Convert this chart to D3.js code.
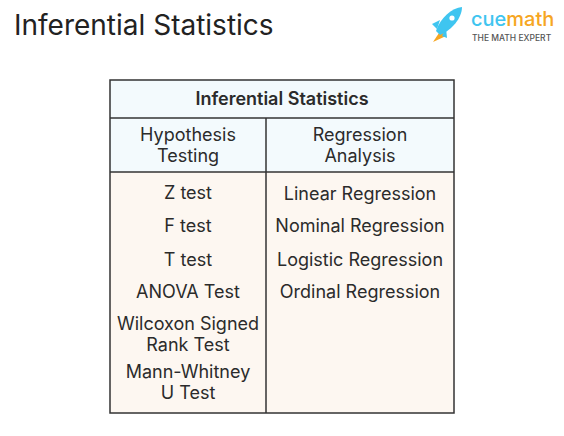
<!DOCTYPE html>
<html><head><meta charset="utf-8">
<script src="https://cdn.jsdelivr.net/npm/d3@7"></script>
<style>body{margin:0;background:#fff}svg{display:block;font-family:Inter,"Noto Sans",sans-serif}</style>
</head><body><svg id="c" width="564" height="436"></svg>
<script>
// table content
const title = 'Inferential Statistics';
const columns = [['Hypothesis', 'Testing'], ['Regression', 'Analysis']];
const leftItems = [['Z test'], ['F test'], ['T test'], ['ANOVA Test'], ['Wilcoxon Signed', 'Rank Test'], ['Mann-Whitney', 'U Test']];
const rightItems = [['Linear Regression'], ['Nominal Regression'], ['Logistic Regression'], ['Ordinal Regression']];
const leftY = [192, 225, 259, 291, 323, 371];
const rightY = [193, 225, 259, 291];

const svg = d3.select('#c');
const X0 = 110, X1 = 454, XM = 266, Y0 = 80, YH = 118, YS = 172, Y1 = 413;
const ink = '#2b2b2b';

svg.append('text').attr('x', 14).attr('y', 35).attr('font-size', 28).attr('fill', '#222').text('Inferential Statistics');

// logo
const lg = svg.append('g');
lg.append('path').attr('d', 'M441 30 L433 42 L446 36 Z').attr('fill', '#f6a623');
lg.append('path').attr('d', 'M436 31 C440 18 452 8 462 7 C462 18 452 30 440 35 Z').attr('fill', '#3fc5f0');
lg.append('path').attr('d', 'M432 24 L440 20 L437 29 Z M442 36 L446 28 L447 38 Z').attr('fill', '#3fc5f0');
lg.append('circle').attr('cx', 452).attr('cy', 18).attr('r', 2.6).attr('fill', '#fff');
lg.append('text').attr('x', 471).attr('y', 26).attr('font-size', 20).attr('font-weight', 500)
  .selectAll('tspan').data([['cue', '#3fc5f0'], ['math', '#f6a623']]).join('tspan')
  .attr('fill', d => d[1]).text(d => d[0]);
lg.append('text').attr('x', 472).attr('y', 41).attr('font-size', 8.5).attr('font-weight', 500).attr('fill', '#555').text('THE MATH EXPERT');

// backgrounds
svg.append('rect').attr('x', X0).attr('y', Y0).attr('width', X1 - X0).attr('height', YS - Y0).attr('fill', '#f3fafd');
svg.append('rect').attr('x', X0).attr('y', YS).attr('width', X1 - X0).attr('height', Y1 - YS).attr('fill', '#fdf7f1');
const lines = [[X0, YH, X1, YH], [X0, YS, X1, YS], [XM, YH, XM, Y1]];
svg.selectAll('line.g').data(lines).join('line').attr('class', 'g')
  .attr('x1', d => d[0]).attr('y1', d => d[1]).attr('x2', d => d[2]).attr('y2', d => d[3])
  .attr('stroke', '#333').attr('stroke-width', 1.5);
svg.append('rect').attr('x', X0).attr('y', Y0).attr('width', X1 - X0).attr('height', Y1 - Y0)
  .attr('fill', 'none').attr('stroke', '#333').attr('stroke-width', 1.5);

svg.append('text').attr('x', (X0 + X1) / 2).attr('y', 105).attr('text-anchor', 'middle')
  .attr('font-size', 18).attr('font-weight', 600).attr('fill', ink).text(title);

function cell(lines, cx, y) {
  const t = svg.append('text').attr('text-anchor', 'middle').attr('font-size', 18).attr('fill', ink);
  lines.forEach((s, i) => t.append('tspan').attr('x', cx).attr('y', y + i * 21).text(s));
}
const cL = (X0 + XM) / 2, cR = (XM + X1) / 2;
cell(columns[0], cL, 141); cell(columns[1], cR, 141);
leftItems.forEach((d, i) => cell(d, cL, leftY[i] + 7));
rightItems.forEach((d, i) => cell(d, cR, rightY[i] + 7));
</script></body></html>
